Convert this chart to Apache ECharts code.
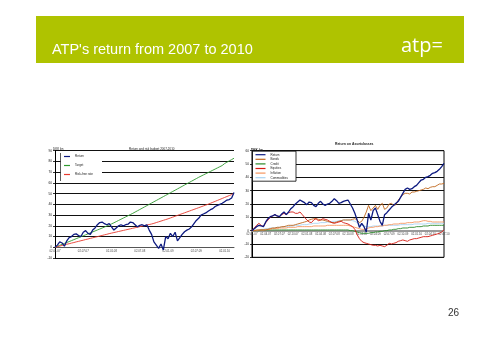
<!DOCTYPE html>
<html><head><meta charset="utf-8">
<script src="https://cdn.jsdelivr.net/npm/echarts@6/dist/echarts.min.js"></script>
<style>html,body{margin:0;padding:0;background:#fff}#c{width:500px;height:353px}</style>
</head><body><div id="c"></div>
<script>
// ---------- DATA ----------
// Left chart: half-monthly points, Jan 2007 - Mar 2010 (DKK bn)
const leftReturn = [0,2,5,4,1,6,9,10,12,12.5, 11,10,14,15.5,13,12,16,18,21,23,
  23.5,22,21,22,19,16,18,20,21,20, 21,21.5,23.5,23,21,19,20.5,21,20,21,
  16,12,5,2,-1,3,-2.5,10,8,13, 10,14,6,9,12,14.5,16,17,19,22,
  25,27,30,31,32,33.5,35,36,38,39, 40,41,42.5,44,44.5,46,51];
const leftTarget = [0,0.9,1.8,2.7,3.6,4.5,5.3,6.2,7.1,8, 8.9,9.8,10.7,11.6,12.5,13.4,14.3,15.2,16.1,17,
  17.9,18.8,19.8,20.8,21.8,22.8,23.9,25,26.1,27.2, 28.3,29.4,30.5,31.6,32.8,34,35.2,36.4,37.6,38.8,
  40,41.2,42.4,43.6,44.8,46,47.2,48.4,49.6,50.8, 52,53.2,54.4,55.6,56.8,58,59.2,60.4,61.6,62.8,
  64,65.2,66.3,67.4,68.5,69.6,70.7,71.8,72.9,74, 75.1,76.2,78,79.3,80.5,81.7,83];
const leftRiskFree = [0,0.6,1.1,1.7,2.2,2.8,3.3,3.9,4.4,5, 5.5,6.1,6.6,7.2,7.7,8.3,8.8,9.4,9.9,10.5,
  11,11.6,12.1,12.7,13.2,13.7,14.2,14.7,15.2,15.7, 16.2,16.7,17.2,17.7,18.2,18.7,19.2,19.7,20.2,20.7,
  21.2,21.7,22.3,23,23.7,24.4,25.1,25.8,26.5,27.3, 28.1,28.9,29.7,30.5,31.3,32.1,32.9,33.7,34.5,35.3,
  36.1,36.9,37.7,38.5,39.3,40.1,41,41.9,42.8,43.7, 44.6,45.5,46.4,47.3,48.2,49.1,50.5];

// Right chart: half-monthly points, Jan 2007 - Jul 2010 (DKK bn)
const rReturn = [0,1.5,3,4,3.5,3,6.5,9,10.5,11, 12,11,10.5,12.5,14,12,14,16.5,18,20,
  21.5,23,22,21,19.5,21.5,21,19,18,20.5, 22,20,19,20,20.5,22,24,22.5,20.5,21,
  22,22.5,23,20,17,13,8,2.5,5.5,3, -1,13,8,15,17,12,7,4,12,13.5,
  15.5,17.5,19,20.5,22,25,28,31,32,31, 31.5,33,34,36,38,38.5,40,40.5,41.5,43,
  43.5,44.5,46,48,50.5];
const rBonds = [0,0,0.5,0.5,0.5,0.5,0.5,1,1.5,2, 2,2.5,2.5,3,3,3.5,4,4,4,4.5,
  5,5.5,6,6.5,7,8,8.5,9,9,8.5, 8,8,7.5,7,6.5,6,6,6.5,7,7.5,
  8,8,8,8,8.5,9,8,6,7,10, 14,19,15,17,19,16,19,20.5,16,17,
  20,20.5,19,19.5,23,25,27,28,28,27.5, 29,29,29.5,30,30.5,31,32,31.5,32.5,33,
  33,34,35,35,35.5];
const rCredit = [0,0,0,0,0.5,0.5,0.5,0.5,0.5,0.5, 0.5,0.5,0.5,0.5,0.5,0.5,0.5,0.5,0.5,0.5,
  0.5,0.5,0.5,0.5,0.5,0.5,0.5,0.5,0.5,0.5, 0.5,0.5,0.5,0.5,0.5,0.5,0.5,0.5,0.5,0.5,
  0.5,0.5,0.5,0,0,-0.5,-1,-1.5,-2,-2, -2,-2,-1.5,-1.5,-1,-1,-0.5,-0.5,0,0,
  0.5,0.5,1,1,1.5,1.5,2,2,2,2.5, 2.5,2.5,3,3,3,3.5,3.5,3.5,4,4,
  4,4,4,4,4];
const rEquities = [0,2,4,5.5,4,3,6,8,10,11, 12,11,10.5,12,13,12,13.5,14,14,13,
  13,14,12,10,8,6.5,6,8,9,7.5, 8,9,8.5,8,7,6,5.5,6,6.5,7,
  6,5.5,5,4,3,1,-3,-6,-8,-9, -9.5,-10,-10.5,-11,-11,-11.5,-11,-11.5,-12,-11,
  -9.5,-10,-9.5,-9,-8,-7.5,-7,-7.5,-8,-7, -6.5,-6,-6,-5.5,-5,-4.5,-4.5,-4.5,-4,-3.5,
  -3,-2.5,-2,-1,0.5];
const rInflation = [0,0,0,0.5,0.5,0.5,1,1,1,1.5, 1.5,1.5,2,2,2,2,2.5,2.5,2.5,2.5,
  3,3,3,3,3,3,3,3.5,3.5,3.5, 3.5,3.5,3.5,4,4,4,4,4,4,4,
  4,4,4,3.5,3,2.5,2,1.5,1,1, 1.5,2,2.5,2.5,3,3,3.5,3.5,4,4,
  4.5,4.5,5,5,5,5.5,5.5,5.5,6,6, 6,6.5,6.5,6.5,7,7.5,7.5,7,7,6.5,
  6.5,6.5,6.5,6.5,6.5];
const rCommodities = [0,0,0.5,0.5,1,1,1.5,1.5,2,2, 2,2.5,2.5,2.5,3,3,3,3.5,3.5,4,
  4,4,4.5,4.5,4.5,5,5,5.5,5.5,5.5, 6,6,6,6.5,6.5,7,7,7,7.5,7.5,
  8,8,8,8,7.5,7,6,5,4,3.5, 3,3,3,3.5,3.5,3.5,3.5,3.5,4,4,
  4,4,4,4,4,4.5,4.5,4.5,4.5,4.5, 4.5,5,5,5,5,5,5,5.5,5.5,5.5,
  5.5,5.5,5.5,5.5,5.5];

const leftNames = ['Return','Target','Risk-free rate'];
const rightNames = ['Return','Bonds','Credit','Equities','Inflation','Commodities'];

function halfMonthCats(n){
  const out=[];
  for(let i=0;i<n;i++){
    const m=Math.floor(i/2), mm=(m%12)+1, yy=7+Math.floor(m/12);
    out.push((i%2?'16':'02')+'.'+String(mm).padStart(2,'0')+'.'+String(yy).padStart(2,'0'));
  }
  return out;
}
const leftCats = halfMonthCats(leftReturn.length);
const rightCats = halfMonthCats(rReturn.length);

// ---------- CHART ----------
const FONT = '"Liberation Sans", Arial, sans-serif';
const chart = echarts.init(document.getElementById('c'), null, {renderer:'canvas'});
const tiny = {fontSize:3.2, color:'#222', fontFamily:FONT};
const G = [
  {left:55, top:150.7, width:179, height:107.3, min:-10, max:90},
  {left:252, top:150.7, width:192, height:106.6, min:-20, max:60}
];
function yAx(g){
  return {type:'value', gridIndex:g, min:G[g].min, max:G[g].max, interval:10,
    axisLine:{show:true, lineStyle:{color:'#000', width:1}},
    axisTick:{show:true, length:2, lineStyle:{color:'#000', width:0.8}},
    axisLabel:Object.assign({margin:3}, tiny),
    splitLine:{show:true, lineStyle:{color:'#111', width:1}}};
}
function xAx(g,cats,interval,zeroColor,zeroW){
  // place the category axis on the value-axis zero line
  const zeroOffset = -G[g].height * (0 - G[g].min) / (G[g].max - G[g].min);
  return {type:'category', gridIndex:g, data:cats, boundaryGap:false,
    position:'bottom', offset:zeroOffset,
    axisLine:{onZero:false, lineStyle:{color:zeroColor, width:zeroW}},
    axisTick:{show:false},
    axisLabel:Object.assign({interval:interval, margin:2}, tiny, {fontSize:2.8, color:'#444'}),
    splitLine:{show:false}};
}
function ln(name,data,color,w,xi,yi){
  return {type:'line', name:name, data:data, xAxisIndex:xi, yAxisIndex:yi,
    symbol:'none', lineStyle:{color:color, width:w}, itemStyle:{color:color}};
}

chart.setOption({
  animation:false,
  backgroundColor:'#fff',
  textStyle:{fontFamily:FONT},
  graphic:[
    {type:'rect', shape:{x:36,y:16,width:428,height:47}, style:{fill:'#afc300'}, z:-1},
    {type:'text', x:52, y:49.5, style:{text:"ATP's return from 2007 to 2010", fill:'#fff',
      font:'14.5px "Liberation Sans", Arial, sans-serif', verticalAlign:'middle'}},
    {type:'text', x:401, y:46, style:{text:'atp=', fill:'#fff',
      font:'500 20px "Open Sans", sans-serif', verticalAlign:'middle'}},
    {type:'text', x:448, y:313, style:{text:'26', fill:'#333',
      font:'10px "Liberation Sans", Arial, sans-serif', verticalAlign:'middle'}},
    {type:'line', shape:{x1:60.5,y1:153,x2:60.5,y2:181}, style:{stroke:'#333', lineWidth:0.8}, z:100}
  ],
  title:[
    {text:'DKK bn', left:48, top:142.5, textStyle:Object.assign({}, tiny, {fontSize:3, fontWeight:'normal'})},
    {text:'Return and risk budget 2007-2010', left:124, top:142.5, textStyle:Object.assign({}, tiny, {fontSize:3, fontWeight:'normal'})},
    {text:'DKK bn', left:246, top:144, textStyle:Object.assign({}, tiny, {fontSize:3.2, fontWeight:'bold'})},
    {text:'Return on Assetclasses', left:330, top:138, textStyle:Object.assign({}, tiny, {fontSize:3.4, fontWeight:'bold'})}
  ],
  grid:[
    {left:G[0].left, top:G[0].top, width:G[0].width, height:G[0].height},
    {left:G[1].left, top:G[1].top, width:G[1].width, height:G[1].height, show:true, borderColor:'#000', borderWidth:1, backgroundColor:'transparent'}
  ],
  xAxis:[ xAx(0,leftCats,11,'#555',1), xAx(1,rightCats,5,'#9a9a9a',2) ],
  yAxis:[ yAx(0), yAx(1) ],
  legend:[
    {data:leftNames, orient:'vertical', left:61, top:153, icon:'rect', itemWidth:6, itemHeight:1.2,
     itemGap:6, itemTextGap:2, padding:[2,9,2,3], backgroundColor:'#fff',
     textStyle:Object.assign({}, tiny, {fontSize:3})},
    {data:rightNames, orient:'vertical', left:252.5, top:151.2, icon:'rect', itemWidth:10, itemHeight:1.2,
     itemGap:1.6, itemTextGap:2, padding:[2,8,2,3], backgroundColor:'#fff', borderColor:'#000', borderWidth:0.8,
     textStyle:Object.assign({}, tiny, {fontSize:3})}
  ],
  series:[
    ln('Target', leftTarget, '#2f9a2f', 0.9, 0, 0),
    ln('Risk-free rate', leftRiskFree, '#e63a2e', 0.9, 0, 0),
    ln('Return', leftReturn, '#0d1a80', 1.3, 0, 0),
    ln('Commodities', rCommodities, '#a9d3f2', 0.9, 1, 1),
    ln('Credit', rCredit, '#2a8a2a', 0.9, 1, 1),
    ln('Inflation', rInflation, '#f5955e', 0.9, 1, 1),
    ln('Bonds', rBonds, '#c0661c', 0.9, 1, 1),
    ln('Equities', rEquities, '#d61a12', 0.9, 1, 1),
    ln('Return', rReturn, '#0d1a80', 1.3, 1, 1)
  ]
});
</script></body></html>
